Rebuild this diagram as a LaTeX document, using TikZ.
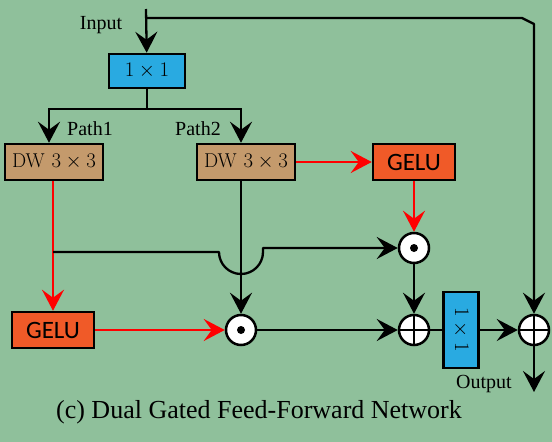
\documentclass[tikz,border=0pt]{standalone}
\usepackage{fontspec}
\usepackage{tikz}
\usetikzlibrary{arrows.meta}
\newfontfamily\labfont{Liberation Serif}
\newfontfamily\gelufont{Carlito}
\definecolor{bggreen}{RGB}{143,192,155}
\definecolor{convblue}{RGB}{41,170,225}
\definecolor{dwtan}{RGB}{196,154,108}
\definecolor{geluorange}{RGB}{240,90,40}
\tikzset{
box/.style={draw,line width=2.5pt,inner sep=0pt},
convbox/.style={box,fill=convblue,minimum width=76pt,minimum height=34pt,font=\fontsize{21}{24}\selectfont},
dwbox/.style={box,fill=dwtan,minimum width=98pt,minimum height=36pt,font=\fontsize{20}{24}\selectfont},
gelubox/.style={box,fill=geluorange,minimum width=82pt,minimum height=36pt,font=\gelufont\fontsize{25}{28}\selectfont},
mulnode/.style={circle,draw,fill=white,line width=2.5pt,minimum size=30pt,inner sep=0pt,
 path picture={\fill[black] (path picture bounding box.center) circle (4pt);}},
addnode/.style={circle,draw,fill=white,line width=2.5pt,minimum size=30pt,inner sep=0pt,
 path picture={\draw[black,line width=2pt] (path picture bounding box.north) -- (path picture bounding box.south)
 (path picture bounding box.west) -- (path picture bounding box.east);}},
lab/.style={font=\labfont\fontsize{20}{24}\selectfont},
flow/.style={line width=2.3pt,-{Stealth[length=21pt,width=22pt,inset=8pt]}},
redflow/.style={flow,red},
wire/.style={line width=2.3pt}
}
\begin{document}
\begin{tikzpicture}[x=1pt,y=-1pt]
\fill[bggreen] (0,0) rectangle (552,442);
\useasboundingbox (0,0) rectangle (552,442);
\coordinate (in) at (146,9);
\coordinate (inT) at (146,18);
\coordinate (inR) at (522,18);
\coordinate (inC) at (534,24);
\node[convbox] (conv1) at (147,71) {$1\times1$};
\coordinate (sp) at (147,109);
\coordinate (sp1) at (49,109);
\coordinate (sp2) at (241,109);
\node[dwbox] (dw1) at (54,162) {DW\,\,$3\times3$};
\node[dwbox] (dw2) at (246,162) {DW\,\,$3\times3$};
\node[gelubox] (gelu1) at (414,162) {GELU};
\node[mulnode] (mul1) at (414,248) {};
\node[gelubox] (gelu2) at (53,330) {GELU};
\node[mulnode] (mul2) at (241,330) {};
\node[addnode] (add1) at (414,330) {};
\node[box,fill=convblue,minimum width=35pt,minimum height=76pt] (conv2) at (461,330)
 {\rotatebox{-90}{\fontsize{21}{24}\selectfont$1\times1$}};
\node[addnode] (add2) at (534,330) {};
\coordinate (out) at (534,392);
\coordinate (j1) at (53,252);
\coordinate (j2) at (219,252);
\coordinate (j3) at (263,248);
\node[lab] (inlab) at (101,25) {Input};
\node[lab] (p1lab) at (90,129) {Path1};
\node[lab] (p2lab) at (198,129) {Path2};
\node[lab] (outlab) at (484,384) {Output};
\node[font=\labfont\fontsize{26}{30}\selectfont] (cap) at (259,412) {(c) Dual Gated Feed-Forward Network};
\draw[flow] (in) -- (conv1);
\draw[flow,line join=round] (inT) -- (inR) -- (inC) -- (add2);
\draw[wire] (conv1) -- (sp);
\draw[flow] (sp) -- (sp1) -- (sp1 |- dw1.north);
\draw[flow] (sp) -- (sp2) -- (sp2 |- dw2.north);
\draw[redflow] (dw2) -- (gelu1);
\draw[redflow] (gelu1) -- (mul1);
\draw[redflow] (dw1.south -| gelu2) -- (gelu2);
\draw[flow,line join=round] (j1) -- (j2) arc[start angle=180,end angle=360,radius=22pt] -- (j3) -- (mul1);
\draw[flow] (dw2.south -| mul2) -- (mul2);
\draw[redflow] (gelu2) -- (mul2);
\draw[flow] (mul1) -- (add1);
\draw[flow] (mul2) -- (add1);
\draw[wire] (add1) -- (conv2);
\draw[flow] (conv2) -- (add2);
\draw[flow] (add2) -- (out);
\end{tikzpicture}
\end{document}
